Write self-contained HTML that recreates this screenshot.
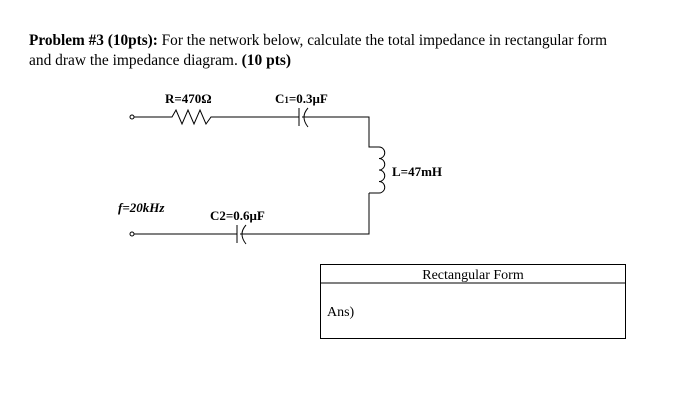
<!DOCTYPE html>
<html><head><meta charset="utf-8"><style>
html,body{margin:0;padding:0;background:#fff;width:680px;height:411px;overflow:hidden}
text{font-family:"Liberation Serif",serif;fill:#000}
</style></head><body>
<svg width="680" height="411" viewBox="0 0 680 411" xmlns="http://www.w3.org/2000/svg">
<text x="29" y="45" font-size="15.5" textLength="578" lengthAdjust="spacingAndGlyphs"><tspan font-weight="bold">Problem #3 (10pts):</tspan> For the network below, calculate the total impedance in rectangular form</text>
<text x="29" y="65" font-size="15.5" textLength="262" lengthAdjust="spacingAndGlyphs">and draw the impedance diagram. <tspan font-weight="bold">(10 pts)</tspan></text>

<text x="165" y="103" font-size="13" font-weight="bold">R=470Ω</text>
<text x="275" y="103" font-size="13" font-weight="bold">C<tspan font-size="9">1</tspan>=0.3μF</text>
<text x="392" y="176" font-size="13" font-weight="bold">L=47mH</text>
<text x="118" y="212" font-size="13" font-weight="bold" font-style="italic">f=20kHz</text>
<text x="210" y="220" font-size="13" font-weight="bold">C2=0.6μF</text>

<g fill="none" stroke="#000" stroke-width="1">
<circle cx="132" cy="117" r="2"/>
<circle cx="132" cy="234" r="2"/>
<path d="M134 117 H172 L176 110 L182 124 L188 110 L194 124 L200 110 L206 124 L211 117 H231 H299"/>
<path d="M299 108 V126"/>
<path d="M308 108 Q300 117 308 127"/>
<path d="M302 117 H369 V147 H379"/>
<path d="M379 147 a4 4 0 0 1 0 11.5 a4 4 0 0 1 0 11.5 a4 4 0 0 1 0 11.5 a4 4 0 0 1 0 11.5 H369"/>
<path d="M369 193 V234 H240"/>
<path d="M134 234 H237"/>
<path d="M237 225 V243"/>
<path d="M246 225 Q238 234 246 244"/>
<rect x="320.5" y="264.5" width="305" height="74"/>
<path d="M320.5 283 H625.5"/>
</g>
<text x="473" y="279" font-size="14" text-anchor="middle">Rectangular Form</text>
<text x="327" y="316" font-size="14">Ans)</text>
</svg>
</body></html>
